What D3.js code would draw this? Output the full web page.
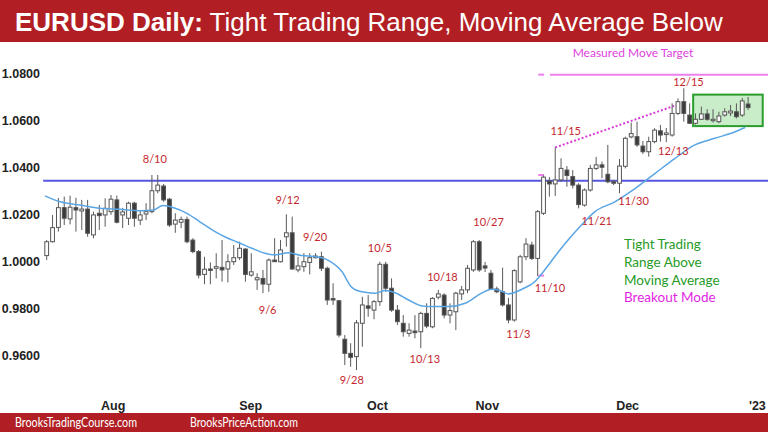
<!DOCTYPE html>
<html>
<head>
<meta charset="utf-8">
<script src="https://cdn.jsdelivr.net/npm/d3@7"></script>
<style>
html, body { margin: 0; padding: 0; background: #fff; }
svg { display: block; font-family: "Liberation Sans", Arial, sans-serif; }
</style>
</head>
<body>
<div id="chart"></div>
<script>
// EURUSD daily candles, index 0 = Jul 15 2022 ... index 120 = Dec 30 2022
const opens = [
  1.0023,1.0082,1.0143,1.0227,1.0179,1.0227,1.0213,1.0221,1.0111,1.0203,
  1.0196,1.0210,1.0260,1.0196,1.0182,1.0246,1.0174,1.0200,1.0210,1.0299,
  1.0319,1.0263,1.0157,1.0165,1.0177,1.0089,1.0040,0.9943,0.9966,0.9969,
  0.9973,0.9966,0.9997,1.0014,1.0051,0.9940,0.9920,0.9926,0.9901,1.0004,
  0.9997,1.0103,1.0120,0.9962,0.9976,0.9994,1.0014,1.0018,0.9969,0.9840,
  0.9831,0.9667,0.9607,0.9593,0.9735,0.9809,0.9791,0.9827,0.9986,0.9884,
  0.9791,0.9735,0.9692,0.9702,0.9699,0.9777,0.9720,0.9846,0.9855,0.9770,
  0.9784,0.9860,0.9877,0.9962,1.0082,0.9979,0.9948,0.9881,0.9869,0.9813,
  0.9749,0.9911,1.0018,1.0068,1.0011,1.0203,1.0340,1.0328,1.0345,1.0387,
  1.0359,1.0323,1.0238,1.0302,1.0394,1.0409,1.0369,1.0337,1.0331,1.0403,
  1.0528,1.0529,1.0489,1.0465,1.0508,1.0554,1.0538,1.0536,1.0628,1.0678,
  1.0621,1.0586,1.0603,1.0626,1.0597,1.0593,1.0621,1.0630,1.0635,1.0621,
  1.0668
];
const highs = [
  1.0089,1.0196,1.0268,1.0274,1.0278,1.0269,1.0260,1.0260,1.0210,1.0238,
  1.0267,1.0281,1.0278,1.0226,1.0252,1.0252,1.0217,1.0246,1.0366,1.0366,
  1.0328,1.0268,1.0203,1.0189,1.0189,1.0097,1.0047,1.0018,0.9994,1.0033,
  1.0089,1.0029,1.0068,1.0082,1.0054,1.0033,0.9948,0.9962,1.0011,1.0097,
  1.0089,1.0199,1.0189,1.0018,1.0033,1.0033,1.0033,1.0040,0.9976,0.9905,
  0.9834,0.9685,0.9650,0.9749,0.9848,0.9855,0.9834,0.9997,0.9997,0.9926,
  0.9813,0.9770,0.9735,0.9770,0.9784,0.9820,0.9846,0.9877,0.9863,0.9820,
  0.9869,0.9894,0.9983,1.0089,1.0089,0.9996,0.9962,0.9891,0.9972,0.9843,
  0.9965,1.0026,1.0097,1.0082,1.0217,1.0364,1.0357,1.0483,1.0437,1.0404,
  1.0387,1.0331,1.0309,1.0409,1.0443,1.0423,1.0494,1.0345,1.0434,1.0529,
  1.0589,1.0593,1.0511,1.0529,1.0565,1.0579,1.0566,1.0671,1.0692,1.0735,
  1.0671,1.0628,1.0657,1.0646,1.0646,1.0635,1.0650,1.0664,1.0671,1.0694,
  1.0698
];
const lows = [
  1.0004,1.0079,1.0125,1.0153,1.0156,1.0125,1.0132,1.0103,1.0097,1.0132,
  1.0146,1.0196,1.0160,1.0140,1.0153,1.0146,1.0153,1.0174,1.0203,1.0288,
  1.0252,1.0145,1.0120,1.0140,1.0075,1.0033,0.9926,0.9901,0.9901,0.9926,
  0.9912,0.9909,0.9983,1.0004,0.9912,0.9933,0.9877,0.9863,0.9869,0.9996,
  0.9994,1.0061,0.9962,0.9952,0.9954,0.9943,1.0011,0.9957,0.9813,0.9813,
  0.9675,0.9557,0.9550,0.9536,0.9635,0.9763,0.9752,0.9809,0.9869,0.9784,
  0.9728,0.9678,0.9678,0.9671,0.9629,0.9714,0.9714,0.9837,0.9756,0.9735,
  0.9706,0.9834,0.9863,0.9954,0.9954,0.9953,0.9877,0.9863,0.9806,0.9735,
  0.9742,0.9905,1.0004,1.0004,0.9936,1.0196,1.0274,1.0277,1.0337,1.0316,
  1.0309,1.0224,1.0231,1.0295,1.0387,1.0352,1.0331,1.0323,1.0288,1.0394,
  1.0522,1.0486,1.0455,1.0444,1.0501,1.0508,1.0506,1.0529,1.0621,1.0593,
  1.0583,1.0581,1.0600,1.0597,1.0589,1.0586,1.0614,1.0617,1.0607,1.0613,
  1.0643
];
const closes = [
  1.0082,1.0142,1.0227,1.0182,1.0229,1.0217,1.0221,1.0118,1.0196,1.0193,
  1.0224,1.0263,1.0165,1.0209,1.0246,1.0182,1.0196,1.0210,1.0299,1.0323,
  1.0260,1.0153,1.0174,1.0177,1.0082,1.0040,0.9940,0.9965,0.9960,0.9976,
  0.9962,0.9997,1.0014,1.0054,0.9943,0.9954,0.9929,0.9902,1.0004,0.9997,
  1.0047,1.0120,0.9966,0.9979,0.9997,1.0014,1.0021,0.9969,0.9834,0.9834,
  0.9685,0.9607,0.9590,0.9737,0.9813,0.9799,0.9827,0.9986,0.9884,0.9791,
  0.9742,0.9699,0.9706,0.9695,0.9777,0.9723,0.9841,0.9860,0.9770,0.9789,
  0.9863,0.9877,0.9969,1.0082,0.9962,0.9970,0.9880,0.9869,0.9813,0.9749,
  0.9959,1.0018,1.0072,1.0011,1.0210,1.0357,1.0328,1.0345,1.0394,1.0364,
  1.0323,1.0240,1.0302,1.0394,1.0409,1.0399,1.0337,1.0331,1.0404,1.0522,
  1.0542,1.0494,1.0465,1.0508,1.0557,1.0536,1.0545,1.0628,1.0678,1.0628,
  1.0586,1.0603,1.0626,1.0603,1.0603,1.0617,1.0635,1.0638,1.0614,1.0681,
  1.0653
];

// moving average: bar index -> price
const maIdx = [-0.3,2.3,5.7,9.1,12.5,16,18.2,19.9,21.6,24,26.2,28.8,31,32.7,35.1,37.3,39.1,41.3,43.6,45.9,
  48.1,50.5,52.2,53.9,56.2,57.9,59.6,61.9,64.2,66.4,68.7,71.6,74.4,76.1,77.3,79,81.3,83.5,85.2,87,
  89.2,91.5,93.8,97.2,100.7,104.1,107.5,110.9,114.3,117.8,119.5];
const maVal = [1.0277,1.0252,1.0238,1.0224,1.0220,1.0214,1.0217,1.0236,1.0228,1.0203,1.0167,1.0125,1.0097,1.0080,1.0054,1.0033,1.0026,1.0035,1.0023,1.0019,
  1.0004,0.9955,0.9888,0.9869,0.9863,0.9874,0.9865,0.9834,0.9809,0.9806,0.9806,0.9820,0.9863,0.9880,0.9877,0.9860,0.9880,0.9912,0.9962,1.0021,
  1.0089,1.0153,1.0210,1.0252,1.0309,1.0373,1.0437,1.0494,1.0522,1.0550,1.0568];

// axis ticks
const yTicks = [0.96, 0.98, 1.00, 1.02, 1.04, 1.06, 1.08];
const monthPos = [11.3, 34.8, 56.5, 75.3, 99.3, 121.5];
const monthLabels = ['Aug', 'Sep', 'Oct', 'Nov', 'Dec', "'23"];

// bar labels: text, bar index, price
const barLabels = ['8/10','9/12','9/20','9/6','10/5','9/28','10/18','10/13','10/27','11/3','11/10','11/15','11/21','11/30','12/13','12/15'];
const barLabelIdx = [18.5,41.2,45.9,37.8,57.0,52.2,67.7,64.7,75.6,80.7,86.1,88.8,94.1,100.4,107.2,109.8];
const barLabelPx = [1.0438,1.0260,1.0106,0.9792,1.0057,0.9494,0.9933,0.9585,1.0169,0.9692,0.9888,1.0555,1.0174,1.0257,1.0469,1.0763];

// drawn levels
const supportLevel = 1.0341;
const supportSpan = [-0.6, 123.5];
const targetLevel = 1.0793;
const targetSpan = [86.1, 123.5];
const targetTick = [84.1, 85.1];
const mmLow = 0.9938, mmHigh = 1.0366;      // measured move leg
const trendIdx = [87, 107.8];
const trendPx = [1.0483, 1.0664];
const boxIdx = [110.6, 122.5];
const boxPx = [1.0574, 1.0708];
const noteLines = ['Tight Trading', 'Range Above', 'Moving Average', 'Breakout Mode'];
const noteColors = ['#279b27', '#279b27', '#279b27', '#e21fe2'];
const footerTexts = ['BrooksTradingCourse.com', 'BrooksPriceAction.com'];

const W = 768, H = 432;
const svg = d3.select('#chart').append('svg').attr('width', W).attr('height', H);

const x = d3.scaleLinear().domain([0, 120]).range([46.7, 748.1]);
const y = d3.scaleLinear().domain([0.96, 1.08]).range([355, 73]);

// header
svg.append('rect').attr('x', 0).attr('y', 0).attr('width', W).attr('height', 42).attr('fill', '#b11f24');
const title = svg.append('text').attr('x', 15).attr('y', 31).attr('fill', '#fff').style('font-size', '26px');
title.append('tspan').text('EURUSD Daily:').style('font-weight', 'bold');
title.append('tspan').text(' Tight Trading Range, Moving Average Below');

// footer (condensed look)
svg.append('rect').attr('x', 0).attr('y', 413).attr('width', W).attr('height', 19).attr('fill', '#b11f24');
svg.append('g').selectAll('text').data(footerTexts).join('text')
  .attr('x', (d, i) => i === 0 ? 15 : 190).attr('y', 427)
  .attr('textLength', (d, i) => i === 0 ? 122 : 108).attr('lengthAdjust', 'spacingAndGlyphs')
  .attr('fill', '#fff').style('font-family', 'Lato, sans-serif').style('font-size', '12.5px')
  .text(d => d);

// tight trading range box (behind the bars)
svg.append('rect')
  .attr('x', x(boxIdx[0])).attr('width', x(boxIdx[1]) - x(boxIdx[0]))
  .attr('y', y(boxPx[1])).attr('height', y(boxPx[0]) - y(boxPx[1]))
  .attr('fill', '#c9ecc9').attr('stroke', '#2a9d2a').attr('stroke-width', 2);

// support line
svg.append('line')
  .attr('x1', x(supportSpan[0])).attr('x2', x(supportSpan[1]))
  .attr('y1', y(supportLevel)).attr('y2', y(supportLevel))
  .attr('stroke', '#5656e0').attr('stroke-width', 2);

// measured move target
const pink = '#ee7fee';
svg.append('line')
  .attr('x1', x(targetSpan[0])).attr('x2', x(targetSpan[1]))
  .attr('y1', y(targetLevel)).attr('y2', y(targetLevel))
  .attr('stroke', pink).attr('stroke-width', 2);
svg.selectAll('line.mm').data([targetLevel, mmHigh, mmLow]).join('line').attr('class', 'mm')
  .attr('x1', x(targetTick[0])).attr('x2', x(targetTick[1]))
  .attr('y1', d => y(d)).attr('y2', d => y(d))
  .attr('stroke', pink).attr('stroke-width', 2);
svg.append('text').attr('x', 633).attr('y', 57).attr('text-anchor', 'middle')
  .attr('fill', '#dd3fdd').style('font-family', 'Lato, sans-serif').style('font-size', '12px')
  .text('Measured Move Target');

// dotted trend line from 11/15 high
svg.append('line')
  .attr('x1', x(trendIdx[0])).attr('x2', x(trendIdx[1]))
  .attr('y1', y(trendPx[0])).attr('y2', y(trendPx[1]))
  .attr('stroke', '#d83ad8').attr('stroke-width', 2).attr('stroke-dasharray', '2,2');

// candles
const candles = opens.map((o, i) => ({ i, o, h: highs[i], l: lows[i], c: closes[i] }));
const cg = svg.append('g');
cg.selectAll('line').data(candles).join('line')
  .attr('x1', d => x(d.i)).attr('x2', d => x(d.i))
  .attr('y1', d => y(d.h)).attr('y2', d => y(d.l))
  .attr('stroke', '#5a5a5a').attr('stroke-width', 1);
cg.selectAll('rect').data(candles).join('rect')
  .attr('x', d => x(d.i) - 1.9).attr('width', 3.8)
  .attr('y', d => y(Math.max(d.o, d.c)))
  .attr('height', d => Math.max(0.8, Math.abs(y(d.o) - y(d.c))))
  .attr('fill', d => d.c >= d.o ? '#fff' : '#3b3b3b')
  .attr('stroke', '#555').attr('stroke-width', 1);

// moving average
const maLine = d3.line().x(d => x(d[0])).y(d => y(d[1])).curve(d3.curveMonotoneX);
svg.append('path').datum(maIdx.map((v, i) => [v, maVal[i]]))
  .attr('d', maLine).attr('fill', 'none').attr('stroke', '#5aa5e4').attr('stroke-width', 1.5);

// y axis
const yAxis = d3.axisLeft(y).tickValues(yTicks).tickFormat(d3.format('.4f')).tickSize(0).tickPadding(0);
const ya = svg.append('g').attr('transform', 'translate(40,0)').call(yAxis);
ya.select('.domain').remove();
ya.selectAll('text').style('font-size', '12.5px').style('font-weight', 'bold')
  .style('font-family', '"Liberation Sans", Arial, sans-serif').attr('fill', '#222');

// x axis
const xAxis = d3.axisBottom(x).tickValues(monthPos).tickFormat((d, i) => monthLabels[i]).tickSize(0).tickPadding(0);
const xa = svg.append('g').attr('transform', 'translate(0,401)').call(xAxis);
xa.select('.domain').remove();
xa.selectAll('text').style('font-size', '12.5px').style('font-weight', 'bold')
  .style('font-family', '"Liberation Sans", Arial, sans-serif').attr('fill', '#222');

// bar date labels
svg.append('g').selectAll('text').data(barLabels).join('text')
  .attr('x', (d, i) => x(barLabelIdx[i])).attr('y', (d, i) => y(barLabelPx[i]))
  .attr('text-anchor', 'middle').attr('dominant-baseline', 'central')
  .attr('fill', '#c4262e').style('font-family', 'Lato, sans-serif').style('font-size', '11px')
  .text(d => d);

// side note
svg.append('g').selectAll('text').data(noteLines).join('text')
  .attr('x', 624).attr('y', (d, i) => 249 + i * 17.8)
  .attr('fill', (d, i) => noteColors[i]).style('font-family', 'Lato, sans-serif').style('font-size', '13.5px')
  .text(d => d);
</script>
</body>
</html>
